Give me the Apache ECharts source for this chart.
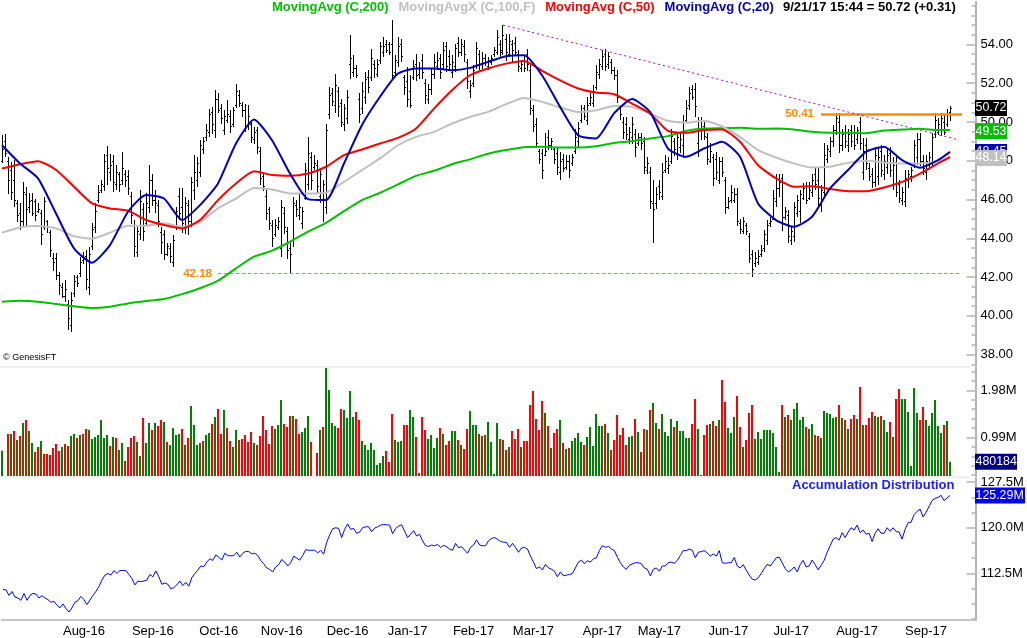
<!DOCTYPE html>
<html><head><meta charset="utf-8">
<style>html,body{margin:0;padding:0;background:#fff}#c{width:1027px;height:638px}</style>
<script src="https://cdn.jsdelivr.net/npm/echarts@6/dist/echarts.min.js"></script>
</head><body><div id="c"></div>
<script>
const monthIdx=[27,50,72,93,115,135,157,177,200,219,242,263,285,308];
const monthNames=['Aug-16','Sep-16','Oct-16','Nov-16','Dec-16','Jan-17','Feb-17','Mar-17','Apr-17','May-17','Jun-17','Jul-17','Aug-17','Sep-17'];
const highs=[49.32,49.37,48.20,47.95,48.03,45.97,45.80,46.91,46.66,46.31,
46.31,46.05,45.80,45.45,46.14,44.94,44.42,43.22,43.22,42.27,
41.67,41.85,40.81,41.24,42.10,42.10,43.05,43.31,43.39,43.56,
44.77,45.80,46.74,47.00,48.37,48.75,48.37,48.29,47.77,47.43,
48.46,47.52,47.52,46.40,44.94,44.59,46.48,45.80,46.31,47.77,
47.34,46.48,45.97,44.59,44.42,43.74,43.74,44.16,45.63,46.57,
46.57,46.14,45.97,47.17,48.29,48.20,49.06,49.23,49.92,50.69,
50.78,51.64,51.47,50.95,50.61,51.12,50.61,50.78,51.95,51.64,
51.04,50.95,50.87,50.09,49.75,49.75,48.72,47.34,46.48,45.63,
44.94,45.02,45.11,45.97,45.63,44.59,43.74,46.14,45.97,46.31,
45.63,47.86,49.23,48.46,48.29,48.03,47.60,47.00,49.92,51.81,
51.73,52.46,51.81,51.21,50.95,51.67,54.51,53.44,52.93,51.47,
52.07,52.58,52.67,53.79,53.19,53.27,54.13,54.39,54.22,54.13,
55.25,53.44,54.39,54.30,52.41,52.84,52.41,53.19,53.53,53.10,
53.53,52.24,51.98,52.76,53.53,53.62,53.53,54.13,54.13,53.70,
53.44,54.04,54.39,54.30,54.22,53.27,52.15,52.93,54.13,53.70,
53.62,53.53,53.36,53.44,53.87,54.73,54.22,54.99,54.56,54.56,
54.22,54.39,53.70,53.19,53.44,53.79,52.93,50.87,50.18,48.63,
48.63,49.41,49.58,49.15,48.72,48.72,48.46,48.37,48.29,48.29,
48.37,49.66,50.01,50.87,50.87,51.30,51.47,51.90,52.93,53.27,
53.70,53.79,53.62,53.27,52.84,52.67,50.87,50.26,50.26,49.75,
50.26,49.66,49.41,49.41,49.23,48.20,47.69,47.00,46.66,47.00,
47.86,48.29,48.20,49.66,49.15,49.49,49.41,50.35,51.12,51.81,
51.90,52.03,50.26,50.26,50.01,49.41,48.89,48.37,48.46,48.20,
48.20,47.17,46.14,46.74,46.57,46.57,45.02,45.11,44.77,44.25,
43.39,43.31,43.39,43.65,44.42,44.94,45.11,46.48,47.34,47.34,
47.34,45.63,45.45,44.59,45.88,46.23,46.48,46.83,46.91,46.91,
47.34,47.60,47.60,46.74,48.89,48.80,49.23,49.84,50.44,50.44,
49.66,49.84,49.66,49.84,49.84,49.75,50.26,49.15,49.15,47.86,
47.60,48.72,48.72,48.80,48.29,48.63,48.72,48.20,48.20,47.00,
46.66,47.52,47.52,47.69,49.06,49.41,49.41,48.29,48.29,48.46,
49.41,50.44,50.18,50.44,50.35,50.69,50.81];
const lows=[47.86,48.20,46.31,45.97,45.63,44.85,44.42,44.59,44.59,45.28,
45.11,44.94,45.28,43.65,44.42,44.25,43.05,42.27,41.85,41.07,
40.90,40.73,39.27,39.18,40.99,41.50,42.02,42.70,41.33,41.07,
43.39,44.25,45.80,46.31,46.48,46.74,47.00,46.40,46.48,46.40,
46.74,46.66,46.23,44.77,43.05,43.05,43.91,43.82,44.59,45.28,
45.71,45.28,44.59,43.22,42.88,43.05,42.70,42.53,44.42,44.94,
44.25,44.25,44.16,44.59,45.97,46.66,47.17,48.37,49.06,49.23,
49.41,49.15,50.44,49.92,49.32,49.92,49.41,49.75,50.69,50.78,
50.26,49.49,49.58,48.89,48.89,48.37,46.74,46.48,44.94,44.42,
43.56,44.08,44.42,43.05,44.25,42.96,42.18,43.56,45.11,44.94,
44.51,45.97,46.48,46.48,47.52,46.31,45.80,44.85,45.28,50.18,
50.78,50.44,50.26,49.75,49.58,49.92,52.24,52.33,52.24,49.92,
50.44,50.95,51.47,52.15,52.24,52.33,53.01,53.36,53.53,53.44,
52.15,52.41,52.84,53.10,51.38,50.78,50.69,52.15,52.15,52.24,
52.24,50.95,50.95,51.38,52.24,52.67,52.24,52.76,52.58,52.67,
52.24,52.58,53.36,53.44,53.10,51.73,51.21,51.81,52.76,52.67,
52.76,52.93,52.67,52.93,53.36,53.44,53.27,53.44,53.19,53.36,
53.10,53.44,52.58,52.58,52.58,52.67,50.35,49.49,48.63,47.86,
47.09,48.20,48.55,48.55,47.86,47.26,47.03,47.43,47.52,47.09,
47.77,48.37,48.72,49.92,50.09,49.84,50.78,50.78,51.64,52.24,
52.67,52.67,52.76,52.50,52.15,50.95,50.09,49.15,49.06,48.89,
48.89,48.20,48.72,48.55,47.34,47.34,45.54,43.77,45.54,45.97,
45.97,47.34,47.34,47.86,48.20,48.03,48.37,48.12,49.92,50.61,
51.12,50.26,48.20,49.06,49.06,47.77,47.86,46.74,47.00,46.83,
47.17,45.28,45.54,45.80,45.80,44.59,44.25,44.25,44.16,42.70,
42.02,42.53,42.62,43.05,43.31,43.65,44.59,44.94,45.63,46.14,
44.42,44.94,43.74,43.65,43.82,45.11,44.77,45.97,45.80,45.97,
46.14,46.48,45.63,45.37,46.14,47.86,48.20,48.72,49.32,48.37,
48.55,48.63,48.46,48.72,48.55,48.89,48.55,47.00,47.52,46.91,
46.57,46.66,46.74,47.17,47.00,47.34,47.17,46.48,46.14,45.80,
45.71,45.59,46.57,46.91,47.60,47.77,47.69,47.26,47.00,47.52,
47.69,49.15,49.32,49.23,49.32,49.75,50.06];
const opens=[48.0,49.0,48.0,47.5,47.0,45.8,45.3,44.9,46.3,45.6,
46.0,45.9,45.4,45.3,44.6,44.9,44.3,43.0,43.0,42.1,
41.5,41.0,40.6,39.5,41.2,42.0,42.2,42.9,43.1,41.5,
43.6,44.6,46.0,46.5,46.7,48.3,47.4,48.0,46.8,47.3,
47.0,47.3,47.2,46.2,44.7,43.3,44.2,45.5,44.8,45.6,
47.0,46.0,45.7,44.3,44.2,43.2,43.5,42.8,44.6,46.2,
45.6,44.6,45.7,44.9,46.5,47.0,47.4,48.6,49.2,49.5,
50.5,49.6,51.2,50.7,49.6,50.1,50.3,49.9,50.9,51.4,
50.9,50.6,49.8,49.9,49.1,49.6,48.5,47.2,46.2,45.5,
44.7,44.2,44.6,43.5,45.3,44.4,43.5,43.9,45.7,45.2,
44.8,46.1,46.8,48.2,47.7,47.8,46.2,46.0,45.6,50.4,
51.5,50.9,51.6,51.0,49.9,50.2,53.0,52.6,52.8,51.2,
50.7,51.3,52.3,52.3,53.0,52.5,53.2,53.6,54.0,54.0,
54.0,52.6,53.1,54.0,52.3,52.1,51.6,52.3,53.0,52.5,
53.2,52.0,51.2,51.7,52.5,52.9,53.3,53.0,53.9,53.4,
52.6,52.9,54.1,53.6,53.9,53.1,51.6,52.0,52.9,53.5,
53.0,53.3,52.9,53.1,53.5,53.6,54.0,53.7,54.3,53.5,
54.0,54.1,53.5,52.8,53.2,53.5,52.7,50.6,49.9,48.5,
48.4,48.3,49.2,48.8,48.6,48.4,47.4,48.1,47.7,48.0,
47.9,48.5,49.0,50.1,50.7,50.1,51.0,51.0,51.8,52.5,
52.9,53.5,53.0,53.1,52.7,52.4,50.7,50.0,49.9,49.1,
49.2,49.4,48.9,49.2,49.0,47.5,47.4,45.8,45.8,46.7,
46.2,47.5,47.6,48.0,49.0,48.4,48.7,48.8,50.1,50.9,
51.7,51.7,48.9,49.6,49.8,49.2,48.0,48.2,48.1,47.0,
48.0,47.0,45.6,46.0,46.0,46.3,44.8,44.4,44.7,44.1,
43.2,42.7,42.8,43.2,43.5,43.9,44.8,45.0,45.9,46.6,
47.1,45.1,45.2,43.9,44.1,45.3,45.4,46.1,46.7,46.1,
46.4,47.3,47.0,45.7,46.4,48.1,48.5,49.0,49.6,50.0,
48.8,49.5,48.8,49.6,49.5,49.1,50.0,47.4,48.8,47.6,
47.3,46.9,47.2,48.5,47.3,47.7,48.4,46.8,47.9,46.8,
46.0,45.9,47.0,47.2,47.8,48.2,49.1,48.0,47.4,47.8,
47.9,49.4,49.5,49.6,50.0,49.9,50.5];
const closes=[48.6,48.4,47.0,46.4,46.0,45.2,44.9,46.4,45.5,45.9,
45.3,45.2,45.5,44.2,45.9,44.6,43.4,42.8,42.1,41.6,
41.0,41.4,39.9,40.8,41.8,41.7,42.8,43.0,41.9,43.2,
44.5,45.4,46.4,46.8,48.0,47.6,47.8,46.9,47.4,46.8,
47.6,47.0,46.6,45.2,43.6,44.4,45.9,44.4,45.8,47.0,
46.0,45.8,44.9,43.8,43.2,43.6,43.1,43.9,45.4,45.3,
44.8,45.8,44.9,46.9,47.4,47.9,48.8,49.0,49.6,50.4,
49.9,51.2,50.6,50.2,50.3,50.4,49.8,50.6,51.6,51.0,
50.6,49.8,50.3,49.2,49.5,48.7,47.1,46.7,45.3,44.8,
44.0,44.7,44.9,45.6,44.6,43.4,43.2,45.8,45.5,45.6,
45.4,47.5,48.4,47.0,47.9,46.7,47.3,46.8,49.6,51.4,
51.1,51.9,50.8,50.0,50.7,51.3,53.3,52.8,52.4,50.4,
51.6,52.2,51.8,53.3,52.8,53.0,53.9,53.9,53.7,53.6,
52.4,53.2,53.9,53.4,51.8,51.2,50.9,52.9,52.4,52.8,
52.6,51.4,51.7,52.5,53.1,53.2,52.6,53.7,52.9,53.0,
53.1,53.8,53.6,54.0,53.5,52.1,51.9,52.7,53.8,53.0,
53.3,53.1,53.2,53.3,53.7,54.4,53.6,54.5,53.6,54.2,
53.7,53.6,52.9,53.0,52.8,53.0,50.7,49.8,48.9,48.1,
47.5,48.5,48.8,49.0,48.1,47.7,48.0,47.6,48.0,47.5,
48.2,49.2,49.7,50.5,50.3,50.9,51.3,51.6,52.6,53.0,
53.4,52.9,53.4,52.7,52.4,51.3,50.4,49.5,49.4,49.5,
49.9,48.7,49.2,48.9,47.7,47.9,45.9,45.5,46.3,46.4,
47.4,48.0,47.8,49.3,48.6,49.2,49.1,50.0,50.7,51.5,
51.3,50.8,49.6,49.7,49.3,48.1,48.5,47.1,47.4,48.0,
47.4,45.6,45.9,46.4,46.3,44.9,44.5,44.9,44.4,43.0,
42.4,43.0,43.1,43.4,44.2,44.7,44.9,46.1,46.6,46.9,
45.1,45.4,44.1,44.4,45.6,46.0,46.3,46.6,46.0,46.5,
47.0,46.8,46.1,46.5,48.3,48.6,49.0,49.6,50.2,48.8,
49.4,49.0,49.4,49.0,48.8,49.6,48.9,48.5,47.9,47.2,
46.9,48.3,48.2,47.5,48.0,48.3,47.5,47.8,46.4,46.1,
46.4,47.1,47.3,47.5,48.8,49.1,48.0,47.6,48.0,48.2,
49.2,50.1,49.9,50.2,49.5,50.4,50.72];
const volumesK=[712,null,1062,1062,1125,936,1020,1293,1356,1125,
873,684,789,915,642,642,621,768,852,705,
789,852,810,1020,1062,978,1041,1062,1167,1146,
957,999,1041,1356,978,1041,810,999,978,726,
873,495,789,978,1020,894,600,1398,873,1293,
1146,1293,1230,1356,1314,894,831,1188,1041,1062,
1167,831,978,1650,1251,831,873,915,1041,1083,
1272,1419,1587,1062,1566,1188,915,789,1146,936,
957,1041,894,1104,873,831,1020,1440,1146,852,
1230,1167,1251,1776,1272,1209,1440,1440,1377,1062,
1104,1188,1440,894,null,663,1146,1209,2448,1986,
1293,1230,1188,1587,1566,1398,1965,1419,1524,1356,
915,831,726,873,726,411,453,600,705,474,
1482,936,894,915,1251,1251,1566,1419,999,243,
1419,1146,957,1041,768,978,1188,1062,831,915,
1125,1125,936,831,747,1167,1545,1251,1251,1062,
1020,1041,1314,894,222,1293,957,936,726,789,
1125,957,1167,789,915,915,1671,1965,1377,1146,
1755,1503,1230,768,1083,1167,1356,873,747,768,
915,978,1083,894,831,999,1209,810,1482,1230,
1230,1272,1083,726,936,1461,1041,1188,831,999,
1020,1377,1104,684,1167,1146,1566,1713,1293,1167,
1482,1104,1020,1377,1209,1335,1125,1125,978,978,
1272,1797,1167,201,1041,1251,1272,1335,1230,1356,
2196,1734,1188,1083,1419,1860,1209,789,936,1503,
1671,957,1104,957,1146,1146,1146,1083,789,264,
1671,1419,1461,1356,1587,1713,1356,1419,1209,1167,
1272,1041,1020,978,1545,1503,1482,1398,1419,1671,
1398,1356,1167,1377,1461,1377,2049,1251,1251,1398,
1524,1440,1419,1440,1356,1104,1314,999,1797,2007,
1797,1797,1524,390,2028,1503,1356,1629,1356,1230,
1503,1776,1230,1083,1251,1335,480];
const volumeDir=['g-rgrgrgrg','grrgrrrrrr','grrggrgrrg','ggggggrgrg','grrrrggrgg','rgrrgrgggg','rgrggggrgg','rgrrgrrggr','rrrrgrrrrr','rgggrrrgrr',
'gggr-rgrgg','ggrrggggrr','ggggggggrr','rgggrrggrg','rrggggrgrr','ggrgrrgggr','grggggrgrg','rrrgrrrrrr','rgrgrrgrgr','ggggrggggg',
'grgrrrrrrg','grgrrgrggr','ggggrggggg','rrggrrgrrg','rrgggrrgrr','rggggggggg','rgrgggggrg','grrggggggr','grgrrgrgrr','rggrggrgrr',
'ggggggrrgg','ggggrgg'].join('');
const accDist=[109.87,109.82,108.90,109.55,108.64,108.48,108.10,109.23,108.10,108.90,
109.23,109.12,108.48,108.85,108.48,108.21,107.78,107.94,107.30,106.87,
107.51,106.76,106.17,106.87,107.78,108.05,108.74,108.21,107.40,108.15,
108.90,109.55,110.35,111.42,112.23,112.50,112.23,112.98,112.50,112.98,
112.98,112.98,112.34,111.69,110.62,111.26,111.16,111.26,111.42,112.34,
111.96,112.92,111.96,110.73,110.94,110.73,109.98,110.19,110.62,111.26,
110.51,111.05,110.41,111.80,112.50,113.03,113.73,113.62,114.37,114.91,
114.64,115.55,115.18,114.69,115.82,115.44,115.39,115.44,115.98,115.18,
115.82,116.14,116.09,115.71,115.82,115.44,114.64,114.10,113.41,113.14,
112.76,113.57,113.94,114.80,114.37,113.73,114.26,115.34,115.02,114.69,
115.44,116.41,116.30,116.30,116.30,115.87,116.30,115.66,117.59,118.82,
119.84,120.00,119.89,118.39,119.73,120.64,119.73,119.89,119.09,119.30,
120.00,120.16,120.16,119.36,119.95,120.16,120.43,120.54,120.48,120.43,
119.04,119.89,120.27,120.48,119.46,118.39,118.93,119.52,118.66,118.93,
117.86,117.05,116.94,117.16,117.05,117.27,116.78,117.11,116.89,116.52,
116.30,117.43,116.73,116.89,116.36,115.82,116.78,117.16,118.02,117.16,
117.05,117.05,117.86,118.23,118.39,118.12,117.75,117.64,117.59,116.78,
117.43,116.78,115.98,116.68,116.78,116.52,115.34,114.37,113.30,113.57,
113.09,114.00,113.41,113.19,112.87,111.96,112.76,112.12,112.23,112.34,
112.50,113.41,114.37,114.69,114.10,114.59,114.37,114.91,115.07,116.25,
117.05,116.78,116.94,116.52,116.25,115.18,114.26,113.57,113.19,113.84,
114.05,114.26,114.26,114.10,113.41,113.19,112.12,113.19,113.41,112.87,
113.73,113.73,114.26,114.37,114.16,114.64,115.44,116.25,116.25,116.52,
116.30,115.07,115.98,116.09,116.25,115.87,115.34,115.71,115.34,116.25,
114.26,114.16,114.26,114.26,115.12,113.73,113.41,113.94,113.03,112.23,
111.58,111.42,111.80,112.50,113.30,114.00,113.73,114.37,115.07,115.18,
114.26,113.30,112.76,113.03,113.57,112.76,113.94,114.64,113.57,113.73,
114.69,113.94,113.09,113.84,114.64,115.98,117.05,118.12,118.39,117.96,
119.20,118.39,119.30,120.00,119.62,120.43,119.20,119.62,118.93,119.09,
117.75,119.09,119.84,119.09,119.09,120.00,119.41,120.00,119.36,119.30,
118.12,119.73,120.80,120.91,122.14,122.68,123.06,121.77,122.52,123.48,
124.45,124.82,124.98,125.31,124.45,124.88,125.29];
const maBars=[0,6,12,18,24,30,36,42,48,54,60,66,72,78,84,90,96,102,108,114,120,126,132,138,144,150,156,162,168,174,180,186,192,198,204,210,216,222,228,234,240,246,252,258,264,270,276,282,288,294,300,306,312,316];
const ma20=[48.80,47.86,47.09,45.28,43.48,42.74,43.65,45.37,46.23,46.05,44.94,45.71,46.83,48.89,50.13,49.06,47.34,46.02,45.97,
47.86,49.84,51.30,52.50,52.76,52.76,52.67,52.79,53.10,53.39,53.44,52.41,50.78,49.32,49.15,50.44,51.18,50.52,48.63,
48.20,48.63,48.98,48.20,45.80,44.94,44.59,45.11,46.57,47.52,48.46,48.72,48.03,47.64,48.03,48.46];
const ma50=[47.60,47.82,47.98,47.52,46.66,45.80,45.54,45.42,44.94,44.68,44.51,44.94,45.97,46.83,47.46,47.26,47.22,47.34,47.69,
48.29,48.58,48.89,49.18,49.66,50.69,51.64,52.41,52.76,53.01,53.15,52.64,52.15,51.73,51.52,51.43,50.95,50.44,49.54,
49.44,49.58,49.61,48.98,47.77,47.09,46.66,46.69,46.54,46.43,46.43,46.62,46.91,47.34,47.86,48.20];
const ma100=[44.29,44.56,44.63,44.51,44.11,43.98,44.29,44.65,44.65,44.77,44.59,44.85,45.54,46.05,46.60,46.52,46.31,46.31,46.35,
46.91,47.52,48.12,48.80,49.23,49.49,49.92,50.26,50.52,50.92,51.24,51.04,50.75,50.52,50.61,50.83,50.78,50.44,50.06,
49.97,50.06,49.78,49.23,48.55,48.17,47.86,47.65,47.69,47.89,48.00,47.91,47.86,47.86,47.98,48.15];
const ma200=[40.73,40.78,40.73,40.61,40.49,40.40,40.47,40.64,40.76,40.87,41.12,41.42,41.81,42.45,43.05,43.36,43.82,44.34,44.80,
45.40,45.97,46.35,46.78,47.22,47.48,47.82,48.07,48.36,48.55,48.70,48.72,48.68,48.68,48.75,48.92,49.01,49.15,49.27,
49.54,49.66,49.68,49.70,49.65,49.66,49.61,49.49,49.44,49.44,49.42,49.56,49.61,49.65,49.58,49.58];
const priceBadges=[['48.18',48.18,'#ff0000','#fff'],['48.45',48.45,'#0000c0','#fff'],['48.14',48.14,'#c0c0c0','#fff'],['49.53',49.53,'#00c000','#fff'],['50.72',50.72,'#000000','#fff']];
const volumeBadges=[['480184',480,'#000080','#fff']];
const accBadges=[['125.29M',125.29,'#0000ff','#fff']];
const priceMajor=[38,40,42,44,46,48,50,52,54];
const priceMinor=[37.5,38.5,39,39.5,40.5,41,41.5,42.5,43,43.5,44.5,45,45.5,46.5,47,47.5,48.5,49,49.5,50.5,51,51.5,52.5,53,53.5,54.5,55,55.5,56];
const volMajor=[990,1980];
const volMinor=[198,396,594,792,1188,1386,1584,1782,2178,2376];
const accMajor=[112.5,120,127.5];
const accMinor=[105,107.5,110,115,117.5,122.5,125];
const annotationLow=42.18, annotationHigh=50.41;
const trendStart=55.0, trendEnd=49.07;

const BAR_SLOTS=325;
const categories=Array.from({length:BAR_SLOTS},(_,i)=>{const k=monthIdx.indexOf(i);return k>=0?monthNames[k]:String.fromCharCode(8203);});
const FONT='"Liberation Sans",Arial,sans-serif';
const GRAY='#b4b4b4';
const chart=echarts.init(document.getElementById('c'),null,{renderer:'canvas'});
const pair=a=>a.map((v,k)=>[maBars[k],v]);
const grids=[{left:0.5,width:975,top:2,height:364},{left:0.5,width:975,top:368,height:108},{left:0.5,width:975,top:478,height:143.5}];
const xAxes=[0,1,2].map(g=>({type:'category',gridIndex:g,data:categories,show:g===2,
  axisLine:{show:true,lineStyle:{color:GRAY,width:1.5}},axisTick:{show:false},
  axisLabel:{interval:0,color:'#000',fontFamily:FONT,fontSize:13,margin:5,hideOverlap:false}}));
function yPair(g,min,max,major,minor,fmt){
  return [{type:'value',gridIndex:g,position:'right',min,max,scale:true,splitLine:{show:false},
    axisLine:{show:true,onZero:false,lineStyle:{color:GRAY,width:2}},
    axisTick:{show:true,inside:true,length:9,customValues:major,lineStyle:{color:GRAY,width:1.5}},
    axisLabel:{show:true,customValues:major,formatter:fmt,color:'#000',fontFamily:FONT,fontSize:13,margin:5}},
   {type:'value',gridIndex:g,position:'right',min,max,scale:true,splitLine:{show:false},
    axisLine:{show:false},axisLabel:{show:false},
    axisTick:{show:true,inside:true,length:4,customValues:minor,lineStyle:{color:GRAY,width:1.5}}}];
}
const yAxes=[...yPair(0,37.41,56.19,priceMajor,priceMinor,v=>Number(v).toFixed(2)),
  ...yPair(1,180,2450,volMajor,volMinor,v=>(v/1000).toFixed(2)+'M'),
  ...yPair(2,104.87,128.16,accMajor,accMinor,v=>Number(v).toFixed(1)+'M')];
const ohlcData=highs.map((h,i)=>[i,opens[i],h,lows[i],closes[i]]);
function renderOHLC(p,api){
  const i=api.value(0);
  const top=api.coord([i,api.value(2)]),bot=api.coord([i,api.value(3)]);
  const oy=api.coord([i,api.value(1)])[1],cy=api.coord([i,api.value(4)])[1];
  const x=Math.floor(top[0]);
  const st={fill:'#000'};
  return {type:'group',silent:true,children:[
    {type:'rect',shape:{x,y:Math.round(top[1]),width:1,height:Math.max(1,Math.round(bot[1]-top[1]))},style:st},
    {type:'rect',shape:{x:x-1,y:Math.round(oy),width:1,height:1},style:st},
    {type:'rect',shape:{x:x+1,y:Math.round(cy),width:1,height:1},style:st}]};
}
function badgeSeries(list,xi,yi,w){
  return {type:'custom',xAxisIndex:xi,yAxisIndex:yi,clip:false,z:20,silent:true,
    data:list.map(b=>[0,b[1]]),encode:{x:0,y:1},
    renderItem(p,api){
      const b=list[p.dataIndex];const y=api.coord([0,api.value(1)])[1];
      return {type:'group',children:[
        {type:'rect',shape:{x:975,y:y-8,width:w,height:16},style:{fill:b[2]}},
        {type:'text',style:{x:975.5,y:y,text:b[0],fill:b[3],font:'12.4px '+FONT,textVerticalAlign:'middle',textAlign:'left'}}]};
    }};
}
function ma(name,data,color){
  return {type:'line',name,xAxisIndex:0,yAxisIndex:0,data:pair(data),showSymbol:false,smooth:0.2,z:5,silent:true,
    lineStyle:{color,width:2},itemStyle:{color}};
}
const annotationSeries=ma('MovingAvg (C,200)',ma200,'#00c000');
annotationSeries.markLine={silent:true,symbol:'none',animation:false,
  data:[
   [{coord:[72,annotationLow],lineStyle:{color:'#ff8000',type:[3,3],width:1},label:{show:true,position:'start',formatter:annotationLow.toFixed(2),color:'#ff8c00',fontFamily:FONT,fontWeight:'bold',fontSize:11.5,distance:6}},{coord:[319,annotationLow]}],
   [{coord:[273,annotationHigh],lineStyle:{color:'#ff8c00',type:'solid',width:2.5},label:{show:true,position:'start',formatter:annotationHigh.toFixed(2),color:'#ff8c00',fontFamily:FONT,fontWeight:'bold',fontSize:11.5,distance:7}},{coord:[320,annotationHigh]}],
   [{coord:[167,trendStart],lineStyle:{color:'#c000c0',type:[2,3],width:1},label:{show:false}},{coord:[319,trendEnd]}]
  ]};
const names=[['MovingAvg (C,200)','#00c000'],['MovingAvgX (C,100,F)','#c0c0c0'],['MovingAvg (C,50)','#ff0000'],['MovingAvg (C,20)','#0000c0']];
chart.setOption({
  animation:false,backgroundColor:'#fff',grid:grids,xAxis:xAxes,yAxis:yAxes,
  legend:{left:267,top:1,itemWidth:0,itemHeight:0,itemGap:5,icon:'none',selectedMode:false,padding:0,
    textStyle:{fontFamily:FONT,fontSize:13,fontWeight:'bold'},
    data:names.map(n=>({name:n[0],icon:'none',textStyle:{color:n[1]}}))},
  graphic:[
    {type:'rect',left:0,top:366,shape:{width:970,height:2},style:{fill:'#f0f0f0'},silent:true},
    {type:'rect',left:0,top:476,shape:{width:970,height:2.5},style:{fill:'#f0f0f0'},silent:true},
    {type:'text',left:783,top:1,style:{text:'9/21/17 15:44 = 50.72 (+0.31)',fill:'#000',font:'bold 13px '+FONT}},
    {type:'text',left:792,top:479,style:{text:'Accumulation Distribution',fill:'#2020ff',font:'bold 13px '+FONT}},
    {type:'text',left:3,top:353,style:{text:'© GenesisFT',fill:'#000',font:'9px '+FONT}}
  ],
  series:[
    {type:'custom',name:'Price',xAxisIndex:0,yAxisIndex:0,data:ohlcData,encode:{x:0,y:[1,2,3,4]},renderItem:renderOHLC,z:2,silent:true},
    annotationSeries,
    ma('MovingAvgX (C,100,F)',ma100,'#c0c0c0'),
    ma('MovingAvg (C,50)',ma50,'#ff0000'),
    ma('MovingAvg (C,20)',ma20,'#0000c0'),
    {type:'bar',name:'Volume',xAxisIndex:1,yAxisIndex:2,barWidth:2,silent:true,
      data:volumesK.map((v,i)=>v===null?null:{value:[i,v],itemStyle:{color:volumeDir[i]==='g'?'#008000':'#ff0000'}})},
    {type:'line',name:'Accumulation Distribution',xAxisIndex:2,yAxisIndex:4,data:accDist.map((v,i)=>[i,v]),showSymbol:false,silent:true,
      lineStyle:{color:'#0000ff',width:1},itemStyle:{color:'#0000ff'}},
    badgeSeries(priceBadges,0,0,32),
    badgeSeries(volumeBadges,1,2,42),
    badgeSeries(accBadges,2,4,50)
  ]
});
</script></body></html>
